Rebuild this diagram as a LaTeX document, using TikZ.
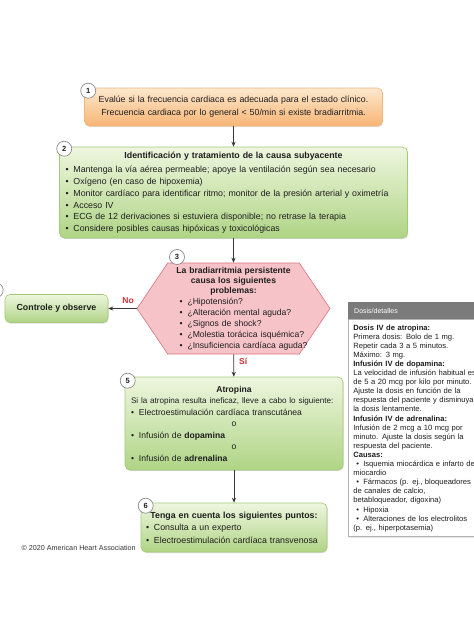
\documentclass[tikz,border=0pt]{standalone}
\usepackage{fontspec}
\setmainfont{Liberation Sans}
\usetikzlibrary{positioning, shapes.symbols, arrows.meta, shadows}

\definecolor{orgtop}{HTML}{FDE8CE}
\definecolor{orgbot}{HTML}{F7B574}
\definecolor{orgline}{HTML}{EDB77E}
\definecolor{grntop}{HTML}{EEF6DF}
\definecolor{grnbot}{HTML}{AFD485}
\definecolor{grnline}{HTML}{A2C878}
\definecolor{hexfill}{HTML}{F6C3C8}
\definecolor{hexline}{HTML}{D9747E}
\definecolor{nored}{HTML}{D42A30}
\definecolor{arrowgray}{HTML}{383838}
\definecolor{hdrgray}{HTML}{7B7B7B}
\definecolor{boxgray}{HTML}{B3B3B3}
\definecolor{txt}{HTML}{1E1E1E}

\newcommand{\bul}{\par\hangindent=8pt\hangafter=1\noindent\makebox[8pt][l]{\textbullet}}
\newcommand{\dbul}{\par\hangindent=10pt\hangafter=1\noindent\makebox[10pt][l]{\hspace{3pt}\textbullet}}

\begin{document}
\begin{tikzpicture}[x=1pt, y=-1pt,
    >={Stealth[length=5pt, width=4.2pt]},
    numcirc/.style={circle, draw=black!45, fill=white, line width=0.7pt, minimum size=15pt,
      inner sep=0pt, text=txt, font=\fontsize{7.5}{8}\selectfont\bfseries},
    boxbase/.style={rectangle, rounded corners=5pt, line width=0.6pt, inner sep=0pt, text=txt,
      drop shadow={shadow xshift=0.7pt, shadow yshift=-1.2pt, opacity=0.25}},
    orgbox/.style={boxbase, draw=orgline, top color=orgtop, bottom color=orgbot},
    grnbox/.style={boxbase, draw=grnline, top color=grntop, bottom color=grnbot},
    hexbox/.style={signal, signal to=west and east, signal pointer angle=112, draw=hexline,
      fill=hexfill, line width=0.6pt, inner sep=0pt, minimum width=193pt, minimum height=91pt},
    body/.style={font=\fontsize{8.8}{11.7}\selectfont, align=left, text=txt},
    edge/.style={->, line width=0.9pt, draw=arrowgray},
    lab/.style={font=\fontsize{8.5}{9}\selectfont\bfseries, text=nored, inner sep=1pt}
  ]
  \path[use as bounding box] (0,0) rectangle (474,632);
  \clip (0,0) rectangle (474,632);

  % main column
  \node[orgbox, minimum width=298pt, minimum height=38pt, text width=290pt, align=center,
    font=\fontsize{8.8}{13}\selectfont] (q1) at (233.5,107)
    {Evalúe si la frecuencia cardiaca es adecuada para el estado clínico.\\
     Frecuencia cardiaca por lo general < 50/min si existe bradiarritmia.};

  \node[grnbox, body, minimum width=348pt, minimum height=91pt, text width=336pt] (q2) at (233.5,192.5)
    {\vspace*{2pt}{\centering\bfseries Identificación y tratamiento de la causa subyacente\par}
     \vspace{1pt}
     \bul Mantenga la vía aérea permeable; apoye la ventilación según sea necesario
     \bul Oxígeno (en caso de hipoxemia)
     \bul Monitor cardíaco para identificar ritmo; monitor de la presión arterial y oximetría
     \bul Acceso IV
     \bul ECG de 12 derivaciones si estuviera disponible; no retrase la terapia
     \bul Considere posibles causas hipóxicas y toxicológicas\par};

  \node[hexbox] (q3) at (233.5,308.5) {};
  \node[body, text width=152pt, font=\fontsize{8.6}{11}\selectfont] (q3t) at (q3.center)
    {{\centering\bfseries\baselineskip=10pt La bradiarritmia persistente\\ causa los siguientes\\ problemas:\par}
     \leftskip=22pt
     \bul ¿Hipotensión?
     \bul ¿Alteración mental aguda?
     \bul ¿Signos de shock?
     \bul ¿Molestia torácica isquémica?
     \bul ¿Insuficiencia cardíaca aguda?\par};

  \node[grnbox, minimum width=103pt, minimum height=28pt, text=txt,
    font=\fontsize{8.8}{10}\selectfont\bfseries] (q4) at (56.5,308.5) {Controle y observe};

  \node[grnbox, body, minimum width=218pt, minimum height=93pt, text width=206pt,
    font=\fontsize{8.6}{11.5}\selectfont] (q5) at (234,423.5)
    {{\centering\bfseries Atropina\par}
     {\fontsize{8.1}{11.5}\selectfont Si la atropina resulta ineficaz, lleve a cabo lo siguiente:\par}
     \bul Electroestimulación cardíaca transcutánea
     \par{\centering o\par}
     \bul Infusión de \textbf{dopamina}
     \par{\centering o\par}
     \bul Infusión de \textbf{adrenalina}\par};

  \node[grnbox, body, minimum width=186pt, minimum height=49pt, text width=176pt,
    font=\fontsize{8.8}{12.5}\selectfont] (q6) at (234,527.5)
    {{\centering\bfseries Tenga en cuenta los siguientes puntos:\par}
     \bul Consulta a un experto
     \bul Electroestimulación cardíaca transvenosa\par};

  % step numbers
  \node[numcirc] (n1) at ([shift={(4pt,-3pt)}]q1.north west) {1};
  \node[numcirc] (n2) at ([shift={(5pt,-2pt)}]q2.north west) {2};
  \node[numcirc] (n3) at (177,257) {3};
  \node[numcirc] (n4) at ([shift={(-9pt,4pt)}]q4.north west) {};
  \node[numcirc] (n5) at ([shift={(3pt,-4pt)}]q5.north west) {5};
  \node[numcirc] (n6) at ([shift={(5pt,-3pt)}]q6.north west) {6};

  % connectors
  \path[edge] (q1) edge (q2);
  \path[edge] (q2) edge (q3);
  \path[edge] (q3) edge node[lab, above=3pt, pos=0.3] {No} (q4);
  \path[edge] (q3) edge node[lab, right=4pt, pos=0.3] {Sí} (q5);
  \path[edge] (q5) edge (q6);

  % dosage panel
  \node[rectangle, fill=hdrgray, anchor=north west, minimum width=150pt, minimum height=17pt,
    text width=140pt, inner xsep=6pt, inner ysep=0pt, align=left, text=white,
    font=\fontsize{7}{8}\selectfont] (dh) at (348,302) {Dosis/detalles};
  \node[rectangle, draw=boxgray, fill=white, line width=0.6pt, anchor=north west,
    minimum width=150pt, minimum height=217pt, text width=150pt, inner xsep=5pt, inner ysep=4pt,
    align=left, text=txt, font=\fontsize{7.6}{9.1}\selectfont,
    drop shadow={shadow xshift=0.5pt, shadow yshift=-1.2pt, opacity=0.2}] (db) at (dh.south west)
    {\textbf{Dosis IV de atropina:}\\
     Primera dosis: Bolo de 1 mg.\\
     Repetir cada 3 a 5 minutos.\\
     Máximo: 3 mg.\\
     \textbf{Infusión IV de dopamina:}\\
     La velocidad de infusión habitual es\\
     de 5 a 20 mcg por kilo por minuto.\\
     Ajuste la dosis en función de la\\
     respuesta del paciente y disminuya\\
     la dosis lentamente.\\
     \textbf{Infusión IV de adrenalina:}\\
     Infusión de 2 mcg a 10 mcg por\\
     minuto. Ajuste la dosis según la\\
     respuesta del paciente.\\
     \textbf{Causas:}
     \dbul Isquemia miocárdica e infarto de\\ miocardio
     \dbul Fármacos (p. ej., bloqueadores\\ de canales de calcio,\\ betabloqueador, digoxina)
     \dbul Hipoxia
     \dbul Alteraciones de los electrolitos\\ (p. ej., hiperpotasemia)\par};

  \node[font=\fontsize{7.2}{8}\selectfont, text=black!80, anchor=west] (aha) at (18,548)
    {© 2020 American Heart Association};
\end{tikzpicture}
\end{document}
